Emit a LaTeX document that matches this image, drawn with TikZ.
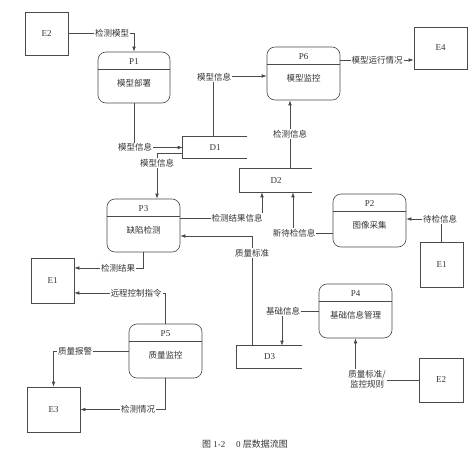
\documentclass[tikz,border=0pt]{standalone}
\usepackage{fontspec}
\setmainfont{Liberation Serif}
\newfontfamily\cjk{Noto Sans CJK SC}
\usetikzlibrary{arrows.meta}
\definecolor{lc}{HTML}{4A4A4A}
\definecolor{tc}{HTML}{333333}
\tikzset{
  ent/.style={draw=lc, inner sep=0pt, text=tc, font=\fontsize{9}{10}\selectfont},
  proc/.style={draw=lc, rounded corners=8pt, minimum width=73pt, minimum height=53pt, inner sep=0pt},
  pid/.style={text=tc, inner sep=0pt, font=\fontsize{9}{10}\selectfont},
  pname/.style={text=tc, inner sep=0pt, font=\cjk\fontsize{8.5}{10}\selectfont},
  store/.style={inner sep=0pt, text=tc, font=\fontsize{9}{10}\selectfont},
  lbl/.style={fill=white, inner sep=1pt, text=tc, font=\cjk\fontsize{8.5}{10}\selectfont, align=center},
  flow/.style={draw=lc, line width=0.6pt, -{Latex[length=5pt,width=3.6pt]}},
  captext/.style={text=tc, inner sep=0pt, font=\fontsize{9}{10}\selectfont}
}
\newcommand{\proclabels}[3]{%
  \draw[lc, line width=0.6pt] ([yshift=-18pt]#1.north west) -- ([yshift=-18pt]#1.north east);
  \node[pid] (#1id) at ([yshift=-9.5pt]#1.north) {#2};
  \node[pname] (#1nm) at ([yshift=-32pt]#1.north) {#3};
}
\newcommand{\storelines}[1]{%
  \draw[lc, line width=0.6pt] (#1.north east) -- (#1.north west) -- (#1.south west) -- (#1.south east);
}
\begin{document}
\begin{tikzpicture}[x=1pt,y=-1pt, line width=0.6pt]
\useasboundingbox (0,0) rectangle (474,452);

% external entities
\node[ent, minimum width=43pt, minimum height=43pt] (E2a) at (46.5,33.5) {E2};
\node[ent, minimum width=53pt, minimum height=42pt] (E4) at (440.5,48) {E4};
\node[ent, minimum width=43pt, minimum height=45pt] (E1b) at (441.5,264.5) {E1};
\node[ent, minimum width=44pt, minimum height=44pt] (E2b) at (441,380) {E2};
\node[ent, minimum width=43pt, minimum height=45pt] (E1a) at (52.5,280.5) {E1};
\node[ent, minimum width=53pt, minimum height=45pt] (E3) at (53.5,409.5) {E3};

% processes
\node[proc, minimum width=72pt, minimum height=51pt] (P1) at (134,77.5) {};
\proclabels{P1}{P1}{模型部署}
\node[proc] (P6) at (303.5,73.5) {};
\proclabels{P6}{P6}{模型监控}
\node[proc] (P3) at (143.5,225.5) {};
\proclabels{P3}{P3}{缺陷检测}
\node[proc] (P2) at (369.5,220.5) {};
\proclabels{P2}{P2}{图像采集}
\node[proc, minimum height=54pt] (P4) at (355.5,311) {};
\proclabels{P4}{P4}{基础信息管理}
\node[proc, minimum height=54pt] (P5) at (165.5,351) {};
\proclabels{P5}{P5}{质量监控}

% data stores
\node[store, minimum width=64pt, minimum height=21pt] (D1) at (215,147.5) {D1};
\storelines{D1}
\node[store, minimum width=72pt, minimum height=23pt] (D2) at (276,180.5) {D2};
\storelines{D2}
\node[store, minimum width=65pt, minimum height=22pt] (D3) at (269.5,357) {D3};
\storelines{D3}

% flows
\draw[flow] (E2a.east) -| (P1.north);
\node[lbl] (l1) at (112,33.5) {检测模型};

\draw[flow] (P1.south) |- (D1.west);
\node[lbl] (l2) at (135,147.5) {模型信息};

\draw[flow] ([xshift=-2pt]D1.north) |- ([yshift=-2.5pt]P6.west);
\node[lbl] (l3) at (214,77) {模型信息};

\draw[flow] ([yshift=13.5pt]P6.east) -- ([yshift=13.5pt]P6.east -| E4.west);
\node[lbl] (l4) at (377,60) {模型运行情况};

\draw[flow] ([xshift=14pt]D2.north) -- ([xshift=14pt]D2.north |- P6.south);
\node[lbl] (l5) at (290,134) {检测信息};

\draw[flow] ([yshift=-5.5pt]D1.west) -| ([xshift=13.5pt]P3.north);
\node[lbl] (l6) at (157,163) {模型信息};

\draw[flow] ([yshift=7.5pt]P3.east) -| ([xshift=-14pt]D2.south);
\node[lbl] (l7) at (237,218) {检测结果信息};

\draw[flow] ([yshift=-12.5pt]P2.west) -| ([xshift=17pt]D2.south);
\node[lbl] (l8) at (294,233) {新待检信息};

\draw[flow] (E1b.north) |- ([yshift=1.5pt]P2.east);
\node[lbl] (l9) at (440,219) {待检信息};

\draw[flow] ([xshift=-17.5pt]D3.north) |- ([yshift=-10.5pt]P3.east);
\node[lbl] (l10) at (252,253) {质量标准};

\draw[flow] (P4.west) -| ([xshift=12.5pt]D3.north);
\node[lbl] (l11) at (283,311) {基础信息};

\draw[flow] (E2b.west) -| (P4.south);
\node[lbl] (l12) at (367,379) {质量标准/\\监控规则};

\draw[flow] (P3.south) |- ([yshift=12.5pt]E1a.east);
\node[lbl] (l13) at (118,268) {检测结果};

\draw[flow] (P5.north) |- ([yshift=-12.5pt]E1a.east);
\node[lbl] (l14) at (136,293) {远程控制指令};

\draw[flow] (P5.west) -| (E3.north);
\node[lbl] (l15) at (75,351) {质量报警};

\draw[flow] (P5.south) |- (E3.east);
\node[lbl] (l16) at (138,409) {检测情况};

% caption
\node[captext] (caption) at (245,444) {{\cjk 图} 1-2\hspace{1.2em}0 {\cjk 层数据流图}};
\end{tikzpicture}
\end{document}
